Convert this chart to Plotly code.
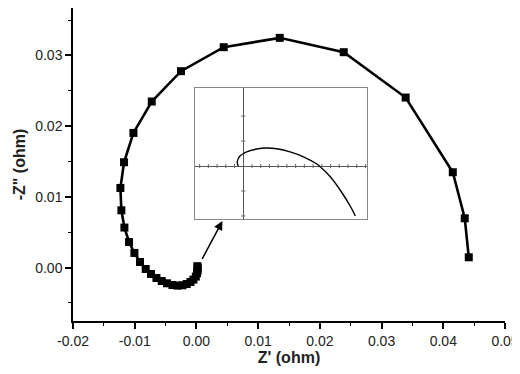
import plotly.graph_objects as go

# Main Nyquist data (Z', -Z'')
z_real = [0.04413, 0.04348, 0.04154, 0.0339, 0.02387, 0.0135, 0.00442, -0.0025,
          -0.00724, -0.01021, -0.01173, -0.01232, -0.01216, -0.01167, -0.01092,
          -0.01005, -0.00914, -0.00822, -0.00736, -0.00648, -0.00562, -0.00476,
          -0.00389, -0.00308, -0.00227, -0.00157, -0.00097, -0.00049, -0.0001,
          0.0001, 0.0002, 0.0002, 0.00015]
z_imag = [0.00146, 0.00697, 0.01348, 0.02404, 0.03045, 0.03248, 0.03116, 0.02777,
          0.02348, 0.01904, 0.01489, 0.01126, 0.0081, 0.00566, 0.00362,
          0.00207, 0.00079, -0.0002, -0.0009, -0.00147, -0.0019, -0.00222,
          -0.00246, -0.00255, -0.0025, -0.00232, -0.00204, -0.0017, -0.00127,
          -0.0008, -0.00038, 0.0, 0.0002]

# Inset curve (arbitrary units)
inset_x = [-0.57, -0.69, -0.38, 0.39, 1.54, 2.69, 3.84, 5.37, 6.9, 8.44, 8.82,
           9.97, 11.1, 12.3, 12.84]
inset_y = [0.0, 0.17, 0.4, 0.57, 0.68, 0.72, 0.69, 0.57, 0.37, 0.08, -0.03,
           -0.43, -0.96, -1.63, -2.0]
inset_xticks = [-5, -4, -3, -2, -1, 1, 2, 3, 4, 5, 6, 7, 8, 9, 10, 11, 12, 13, 14]
inset_yticks = [-2, -1, 1, 2]

# Arrow (tail -> head) in main data coords
arrow_tail = (0.00081, 0.00103)
arrow_head = (0.00421, 0.00659)

x_tickvals = [-0.02, -0.01, 0.00, 0.01, 0.02, 0.03, 0.04, 0.05]
x_ticktext = ["-0.02", "-0.01", "0.00", "0.01", "0.02", "0.03", "0.04", "0.05"]
y_tickvals = [0.00, 0.01, 0.02, 0.03]
y_ticktext = ["0.00", "0.01", "0.02", "0.03"]

fig = go.Figure()
fig.add_trace(go.Scatter(
    x=z_real, y=z_imag, mode="lines+markers",
    line=dict(color="black", width=2.6),
    marker=dict(symbol="square", size=8, color="black"),
    xaxis="x", yaxis="y", showlegend=False, cliponaxis=False))

fig.add_trace(go.Scatter(
    x=inset_x, y=inset_y, mode="lines", line=dict(color="black", width=1.4, shape="spline"),
    xaxis="x2", yaxis="y2", showlegend=False))
fig.add_trace(go.Scatter(
    x=inset_xticks, y=[0] * len(inset_xticks), mode="markers",
    marker=dict(symbol="line-ns-open", size=3, color="#666", line=dict(width=1, color="#666")),
    xaxis="x2", yaxis="y2", showlegend=False))
fig.add_trace(go.Scatter(
    x=[0] * len(inset_yticks), y=inset_yticks, mode="markers",
    marker=dict(symbol="line-ew-open", size=3, color="#666", line=dict(width=1, color="#666")),
    xaxis="x2", yaxis="y2", showlegend=False))

fig.add_annotation(
    x=arrow_head[0], y=arrow_head[1], ax=arrow_tail[0], ay=arrow_tail[1],
    xref="x", yref="y", axref="x", ayref="y", text="",
    showarrow=True, arrowhead=2, arrowsize=1.2, arrowwidth=1.5, arrowcolor="black")

tickfont = dict(family="Liberation Sans, Arial, sans-serif", size=14, color="#222")
titlefont = dict(family="Liberation Sans, Arial, sans-serif", size=16, color="#222", weight="bold")

fig.update_layout(
    width=520, height=374,
    margin=dict(l=65, r=23, t=0, b=61),
    plot_bgcolor="white", paper_bgcolor="white",
    xaxis=dict(range=[-0.02, 0.05], tickvals=x_tickvals, ticktext=x_ticktext,
               automargin=False,
               showgrid=False, zeroline=False, showline=True, linecolor="black", linewidth=1.5,
               ticks="outside", ticklen=6, tickwidth=1.5, tickcolor="black",
               minor=dict(dtick=0.005, ticks="outside", ticklen=3, tickwidth=1.2, tickcolor="black", showgrid=False),
               tickfont=tickfont,
               title=dict(text="Z' (ohm)", font=titlefont, standoff=0)),
    yaxis=dict(range=[-0.00755, 0.0367], tickvals=y_tickvals, ticktext=y_ticktext,
               automargin=False,
               showgrid=False, zeroline=False, showline=True, linecolor="black", linewidth=1.5,
               ticks="outside", ticklen=6, tickwidth=1.5, tickcolor="black",
               minor=dict(dtick=0.005, ticks="outside", ticklen=3, tickwidth=1.2, tickcolor="black", showgrid=False),
               tickfont=tickfont,
               title=dict(text='-Z" (ohm)', font=titlefont, standoff=6)),
    xaxis2=dict(domain=[0.282, 0.681], anchor="y2", range=[-5.55, 14.2],
                showgrid=False, showticklabels=False, ticks="",
                zeroline=True, zerolinecolor="#555", zerolinewidth=1,
                showline=True, mirror=True, linecolor="#888", linewidth=1.2),
    yaxis2=dict(domain=[0.326, 0.744], anchor="x2", range=[-2.12, 3.12],
                showgrid=False, showticklabels=False, ticks="",
                zeroline=True, zerolinecolor="#555", zerolinewidth=1,
                showline=True, mirror=True, linecolor="#888", linewidth=1.2),
)

fig.write_html("out.html")
